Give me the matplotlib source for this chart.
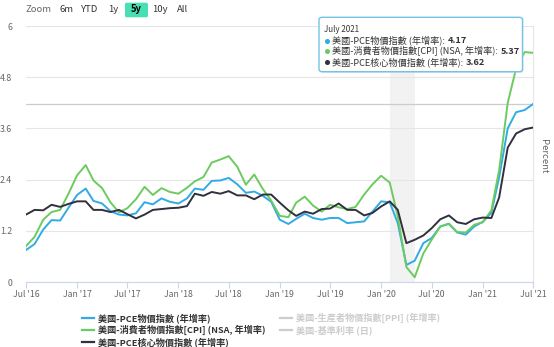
import matplotlib
matplotlib.use("Agg")
import matplotlib.pyplot as plt
from matplotlib.patches import FancyBboxPatch
from matplotlib.lines import Line2D
import pandas as pd

plt.rcParams['font.family'] = ['Noto Sans CJK TC', 'DejaVu Sans']

W, H = 554, 347

months = pd.date_range('2016-07-01', '2021-07-01', freq='MS')

# 年增率 (%), Jul 2016 - Jul 2021
pce = [0.75, 0.89, 1.23, 1.45, 1.44, 1.74,
       2.04, 2.19, 1.90, 1.84, 1.66, 1.58, 1.56, 1.61, 1.87, 1.82, 1.96, 1.88,
       1.84, 1.96, 2.19, 2.16, 2.37, 2.38, 2.44, 2.29, 2.09, 2.12, 2.02, 1.88,
       1.46, 1.36, 1.48, 1.60, 1.50, 1.46, 1.50, 1.50, 1.38, 1.40, 1.42, 1.65,
       1.89, 1.87, 1.38, 0.40, 0.50, 0.91, 1.03, 1.30, 1.36, 1.16, 1.11, 1.30,
       1.41, 1.62, 2.45, 3.60, 3.98, 4.03, 4.17]
cpi = [0.84, 1.06, 1.46, 1.64, 1.69, 2.07,
       2.50, 2.74, 2.38, 2.20, 1.87, 1.63, 1.73, 1.94, 2.23, 2.04, 2.20, 2.11,
       2.07, 2.21, 2.36, 2.46, 2.80, 2.87, 2.95, 2.70, 2.28, 2.52, 2.18, 1.91,
       1.55, 1.52, 1.86, 2.00, 1.79, 1.65, 1.81, 1.75, 1.71, 1.76, 2.05, 2.29,
       2.49, 2.33, 1.54, 0.35, 0.11, 0.67, 0.99, 1.30, 1.37, 1.17, 1.16, 1.34,
       1.40, 1.68, 2.62, 4.20, 5.00, 5.39, 5.37]
core_pce = [1.58, 1.69, 1.68, 1.81, 1.76, 1.83,
            1.89, 1.89, 1.69, 1.69, 1.64, 1.69, 1.59, 1.49, 1.58, 1.69, 1.71, 1.73,
            1.74, 1.78, 2.07, 2.02, 2.11, 2.07, 2.13, 2.03, 2.03, 1.94, 2.05, 2.05,
            1.86, 1.68, 1.55, 1.65, 1.60, 1.71, 1.72, 1.84, 1.69, 1.69, 1.56, 1.62,
            1.77, 1.89, 1.69, 0.91, 0.99, 1.09, 1.26, 1.47, 1.56, 1.40, 1.36, 1.47,
            1.51, 1.50, 1.98, 3.15, 3.48, 3.58, 3.62]

tick_dates = pd.date_range('2016-07-01', '2021-07-01', freq='6MS')
tick_labels = ["Jul '16", "Jan '17", "Jul '17", "Jan '18", "Jul '18", "Jan '19",
               "Jul '19", "Jan '20", "Jul '20", "Jan '21", "Jul '21"]
y_ticks = [0, 1.2, 2.4, 3.6, 4.8, 6]
y_labels = ['0', '1.2', '2.4', '3.6', '4.8', '6']

recession = (pd.Timestamp('2020-02-01'), pd.Timestamp('2020-05-01'))

series = [
    ('美國-PCE物價指數 (年增率)', pce, '#31abe5'),
    ('美國-消費者物價指數[CPI] (NSA, 年增率)', cpi, '#6ccb5f'),
    ('美國-PCE核心物價指數 (年增率)', core_pce, '#30303f'),
]
hidden_series = ['美國-生產者物價指數[PPI] (年增率)', '美國-基準利率 (日)']
buttons = ['6m', 'YTD', '1y', '5y', '10y', 'All']
active_button = '5y'


def fx(x):
    return x / W


def fy(y):
    return 1 - y / H


fig = plt.figure(figsize=(W / 100, H / 100), dpi=100)
ax = fig.add_axes([fx(26), fy(282), (533 - 26) / W, (282 - 26) / H])

ax.axvspan(recession[0], recession[1], color='#f2f2f2', zorder=0, lw=0)
for name, vals, color in series:
    ax.plot(months, vals, color=color, lw=1.4, zorder=3, solid_joinstyle='round')

# crosshair at the hovered value
ax.axhline(pce[-1], color='#cccccc', lw=0.9, zorder=2)

ax.set_xlim(months[0], months[-1])
ax.set_ylim(0, 6)
ax.set_xticks(tick_dates)
ax.set_xticklabels(tick_labels)
ax.set_yticks(y_ticks)
ax.set_yticklabels(y_labels)
ax.yaxis.grid(True, color='#e6e6e6', lw=0.8, zorder=1)
ax.set_axisbelow(True)
for s in ['top', 'left']:
    ax.spines[s].set_visible(False)
ax.spines['bottom'].set_color('#ccd6eb')
ax.spines['right'].set_color('#e6e6e6')
ax.tick_params(axis='x', length=4, color='#ccd6eb', labelsize=6.3,
               labelcolor='#666666', pad=2)
ax.tick_params(axis='y', length=0, labelsize=6.3, labelcolor='#666666', pad=10)
ax.tick_params(axis='y', which='both', right=False)

fig.text(fx(543), fy(156), 'Percent', rotation=270, ha='center', va='center',
         fontsize=6.8, color='#666666')

# range selector
fig.text(fx(26), fy(9.5), 'Zoom', ha='left', va='center', fontsize=6.8, color='#666666')
btn_x = [66, 89.5, 113, 136.5, 160, 183]
for label, bx in zip(buttons, btn_x):
    if label == active_button:
        fig.patches.append(FancyBboxPatch((fx(bx - 11.5), fy(17.3)), 23 / W, 14.6 / H,
                                          boxstyle='round,pad=0,rounding_size=0.004',
                                          transform=fig.transFigure, fc='#48dfb4', ec='none'))
        fig.text(fx(bx), fy(9.5), label, ha='center', va='center', fontsize=6.8,
                 color='#000000', weight='bold')
    else:
        fig.text(fx(bx), fy(9.5), label, ha='center', va='center', fontsize=6.8,
                 color='#333333')

# tooltip
fig.patches.append(FancyBboxPatch((fx(320.5), fy(73)), 203 / W, 55 / H,
                                  boxstyle='round,pad=0,rounding_size=0.006',
                                  transform=fig.transFigure, fc='#d0d0d0', ec='none',
                                  alpha=0.5, zorder=5))
fig.patches.append(FancyBboxPatch((fx(319), fy(71.7)), 203.5 / W, 54.4 / H,
                                  boxstyle='round,pad=0,rounding_size=0.006',
                                  transform=fig.transFigure, fc='white', ec='#72c4e4',
                                  lw=1, zorder=6))
fig.text(fx(324), fy(29), 'July 2021', ha='left', va='center', fontsize=5.8,
         color='#333333', zorder=7)
renderer = fig.canvas.get_renderer()
row_y = [40.7, 51.3, 62.3]
for (name, vals, color), ry in zip(series, row_y):
    fig.add_artist(Line2D([fx(327)], [fy(ry)], marker='o', ms=2.6, color=color,
                          transform=fig.transFigure, zorder=7))
    t = fig.text(fx(332), fy(ry), name + ':', ha='left', va='center', fontsize=6.6,
                 color='#333333', zorder=7)
    bb = t.get_window_extent(renderer=renderer)
    fig.text((bb.x1 + 3) / W, fy(ry), f'{vals[-1]:.2f}', ha='left', va='center',
             fontsize=6.6, color='#333333', weight='bold', zorder=7)

# legend
leg_rows = [318, 330, 342]
for (name, vals, color), ly in zip(series, leg_rows):
    fig.add_artist(Line2D([fx(82), fx(94)], [fy(ly), fy(ly)], color=color, lw=1.6,
                          transform=fig.transFigure))
    fig.text(fx(98), fy(ly), name, ha='left', va='center', fontsize=6.6,
             color='#333333', weight='bold')
for name, ly in zip(hidden_series, leg_rows):
    fig.add_artist(Line2D([fx(280), fx(292)], [fy(ly), fy(ly)], color='#cccccc', lw=1.6,
                          transform=fig.transFigure))
    fig.text(fx(296), fy(ly), name, ha='left', va='center', fontsize=6.6,
             color='#cccccc', weight='bold')

fig.savefig('out.png', dpi=100)
